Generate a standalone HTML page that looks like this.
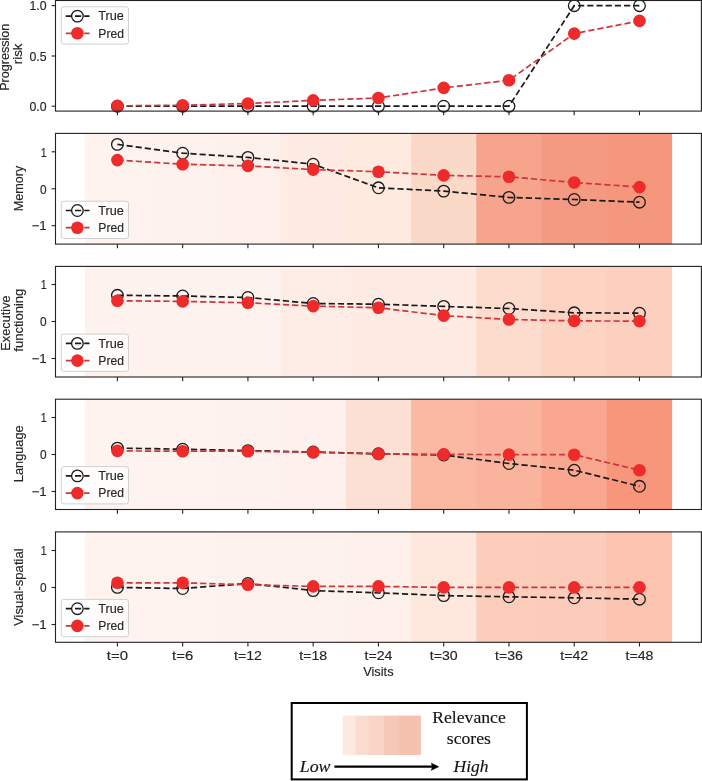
<!DOCTYPE html>
<html><head><meta charset="utf-8"><style>
html,body{margin:0;padding:0;background:#fff;}
svg{display:block;will-change:transform;}
text{font-family:"Liberation Sans", sans-serif;fill:#262626;stroke:#262626;stroke-width:0.15px;}
</style></head><body>
<svg width="702" height="781" viewBox="0 0 702 781">
<rect width="702" height="781" fill="#fff"/>
<polyline points="117.40,106.20 182.66,106.20 247.92,106.20 313.18,106.20 378.44,106.20 443.70,106.20 508.96,106.20 574.22,5.70 639.48,5.70" fill="none" stroke="#1a1a1a" stroke-width="1.7" stroke-dasharray="6.2 3.0"/>
<circle cx="117.40" cy="106.20" r="5.8" fill="none" stroke="#1a1a1a" stroke-width="1.3"/>
<circle cx="182.66" cy="106.20" r="5.8" fill="none" stroke="#1a1a1a" stroke-width="1.3"/>
<circle cx="247.92" cy="106.20" r="5.8" fill="none" stroke="#1a1a1a" stroke-width="1.3"/>
<circle cx="313.18" cy="106.20" r="5.8" fill="none" stroke="#1a1a1a" stroke-width="1.3"/>
<circle cx="378.44" cy="106.20" r="5.8" fill="none" stroke="#1a1a1a" stroke-width="1.3"/>
<circle cx="443.70" cy="106.20" r="5.8" fill="none" stroke="#1a1a1a" stroke-width="1.3"/>
<circle cx="508.96" cy="106.20" r="5.8" fill="none" stroke="#1a1a1a" stroke-width="1.3"/>
<circle cx="574.22" cy="5.70" r="5.8" fill="none" stroke="#1a1a1a" stroke-width="1.3"/>
<circle cx="639.48" cy="5.70" r="5.8" fill="none" stroke="#1a1a1a" stroke-width="1.3"/>
<polyline points="117.40,105.90 182.66,105.20 247.92,103.50 313.18,100.40 378.44,98.00 443.70,87.90 508.96,80.30 574.22,33.60 639.48,20.90" fill="none" stroke="#cf363b" stroke-width="1.7" stroke-dasharray="6.2 3.0"/>
<circle cx="117.40" cy="105.90" r="6.3" fill="#ee2a2a"/>
<circle cx="182.66" cy="105.20" r="6.3" fill="#ee2a2a"/>
<circle cx="247.92" cy="103.50" r="6.3" fill="#ee2a2a"/>
<circle cx="313.18" cy="100.40" r="6.3" fill="#ee2a2a"/>
<circle cx="378.44" cy="98.00" r="6.3" fill="#ee2a2a"/>
<circle cx="443.70" cy="87.90" r="6.3" fill="#ee2a2a"/>
<circle cx="508.96" cy="80.30" r="6.3" fill="#ee2a2a"/>
<circle cx="574.22" cy="33.60" r="6.3" fill="#ee2a2a"/>
<circle cx="639.48" cy="20.90" r="6.3" fill="#ee2a2a"/>
<rect x="55.5" y="0.5" width="645.90" height="110.60" fill="none" stroke="#222" stroke-width="1.1"/>
<line x1="51.6" y1="5.6" x2="55.5" y2="5.6" stroke="#222" stroke-width="1.1"/>
<text x="46.6" y="10.30" text-anchor="end" font-size="12.4" textLength="17.1" lengthAdjust="spacingAndGlyphs">1.0</text>
<line x1="51.6" y1="56.0" x2="55.5" y2="56.0" stroke="#222" stroke-width="1.1"/>
<text x="46.6" y="60.70" text-anchor="end" font-size="12.4" textLength="17.1" lengthAdjust="spacingAndGlyphs">0.5</text>
<line x1="51.6" y1="106.2" x2="55.5" y2="106.2" stroke="#222" stroke-width="1.1"/>
<text x="46.6" y="110.90" text-anchor="end" font-size="12.4" textLength="17.1" lengthAdjust="spacingAndGlyphs">0.0</text>
<line x1="117.40" y1="111.1" x2="117.40" y2="115.30" stroke="#222" stroke-width="1.1"/>
<line x1="182.66" y1="111.1" x2="182.66" y2="115.30" stroke="#222" stroke-width="1.1"/>
<line x1="247.92" y1="111.1" x2="247.92" y2="115.30" stroke="#222" stroke-width="1.1"/>
<line x1="313.18" y1="111.1" x2="313.18" y2="115.30" stroke="#222" stroke-width="1.1"/>
<line x1="378.44" y1="111.1" x2="378.44" y2="115.30" stroke="#222" stroke-width="1.1"/>
<line x1="443.70" y1="111.1" x2="443.70" y2="115.30" stroke="#222" stroke-width="1.1"/>
<line x1="508.96" y1="111.1" x2="508.96" y2="115.30" stroke="#222" stroke-width="1.1"/>
<line x1="574.22" y1="111.1" x2="574.22" y2="115.30" stroke="#222" stroke-width="1.1"/>
<line x1="639.48" y1="111.1" x2="639.48" y2="115.30" stroke="#222" stroke-width="1.1"/>
<text transform="translate(8.7,57.3) rotate(-90)" text-anchor="middle" font-size="12.4" textLength="66.9" lengthAdjust="spacingAndGlyphs">Progression</text>
<text transform="translate(21.6,53.9) rotate(-90)" text-anchor="middle" font-size="12.4" textLength="20.6" lengthAdjust="spacingAndGlyphs">risk</text>
<rect x="61.3" y="6.8" width="67.2" height="37.3" rx="2.5" fill="#ffffff" fill-opacity="0.8" stroke="#d0d0d0" stroke-width="1"/>
<line x1="65.8" y1="16.1" x2="89.5" y2="16.1" stroke="#1a1a1a" stroke-width="1.7" stroke-dasharray="6.2 3.0"/>
<circle cx="77.4" cy="16.1" r="5.8" fill="none" stroke="#1a1a1a" stroke-width="1.3"/>
<line x1="65.8" y1="33.3" x2="89.5" y2="33.3" stroke="#cf363b" stroke-width="1.7" stroke-dasharray="6.2 3.0"/>
<circle cx="77.4" cy="33.3" r="6.3" fill="#ee2a2a"/>
<text x="98.3" y="20.30" font-size="12.4" textLength="25.6" lengthAdjust="spacingAndGlyphs">True</text>
<text x="98.3" y="37.50" font-size="12.4" textLength="25.6" lengthAdjust="spacingAndGlyphs">Pred</text>
<rect x="84.77" y="133.4" width="66.26" height="110.70" fill="#fef3ef"/>
<rect x="150.03" y="133.4" width="66.26" height="110.70" fill="#fef2ee"/>
<rect x="215.29" y="133.4" width="66.26" height="110.70" fill="#fef0eb"/>
<rect x="280.55" y="133.4" width="66.26" height="110.70" fill="#feece4"/>
<rect x="345.81" y="133.4" width="66.26" height="110.70" fill="#feeade"/>
<rect x="411.07" y="133.4" width="66.26" height="110.70" fill="#fbd9c9"/>
<rect x="476.33" y="133.4" width="66.26" height="110.70" fill="#f6a48b"/>
<rect x="541.59" y="133.4" width="66.26" height="110.70" fill="#f59a82"/>
<rect x="606.85" y="133.4" width="65.26" height="110.70" fill="#f4977d"/>
<polyline points="117.40,144.40 182.66,153.20 247.92,157.40 313.18,164.20 378.44,187.80 443.70,191.10 508.96,197.40 574.22,199.50 639.48,202.20" fill="none" stroke="#1a1a1a" stroke-width="1.7" stroke-dasharray="6.2 3.0"/>
<circle cx="117.40" cy="144.40" r="5.8" fill="none" stroke="#1a1a1a" stroke-width="1.3"/>
<circle cx="182.66" cy="153.20" r="5.8" fill="none" stroke="#1a1a1a" stroke-width="1.3"/>
<circle cx="247.92" cy="157.40" r="5.8" fill="none" stroke="#1a1a1a" stroke-width="1.3"/>
<circle cx="313.18" cy="164.20" r="5.8" fill="none" stroke="#1a1a1a" stroke-width="1.3"/>
<circle cx="378.44" cy="187.80" r="5.8" fill="none" stroke="#1a1a1a" stroke-width="1.3"/>
<circle cx="443.70" cy="191.10" r="5.8" fill="none" stroke="#1a1a1a" stroke-width="1.3"/>
<circle cx="508.96" cy="197.40" r="5.8" fill="none" stroke="#1a1a1a" stroke-width="1.3"/>
<circle cx="574.22" cy="199.50" r="5.8" fill="none" stroke="#1a1a1a" stroke-width="1.3"/>
<circle cx="639.48" cy="202.20" r="5.8" fill="none" stroke="#1a1a1a" stroke-width="1.3"/>
<polyline points="117.40,160.10 182.66,164.20 247.92,165.90 313.18,169.60 378.44,171.70 443.70,175.40 508.96,176.80 574.22,182.50 639.48,187.10" fill="none" stroke="#cf363b" stroke-width="1.7" stroke-dasharray="6.2 3.0"/>
<circle cx="117.40" cy="160.10" r="6.3" fill="#ee2a2a"/>
<circle cx="182.66" cy="164.20" r="6.3" fill="#ee2a2a"/>
<circle cx="247.92" cy="165.90" r="6.3" fill="#ee2a2a"/>
<circle cx="313.18" cy="169.60" r="6.3" fill="#ee2a2a"/>
<circle cx="378.44" cy="171.70" r="6.3" fill="#ee2a2a"/>
<circle cx="443.70" cy="175.40" r="6.3" fill="#ee2a2a"/>
<circle cx="508.96" cy="176.80" r="6.3" fill="#ee2a2a"/>
<circle cx="574.22" cy="182.50" r="6.3" fill="#ee2a2a"/>
<circle cx="639.48" cy="187.10" r="6.3" fill="#ee2a2a"/>
<rect x="55.5" y="133.4" width="645.90" height="110.70" fill="none" stroke="#222" stroke-width="1.1"/>
<line x1="51.6" y1="151.8" x2="55.5" y2="151.8" stroke="#222" stroke-width="1.1"/>
<text x="46.6" y="156.50" text-anchor="end" font-size="12.4" textLength="5.9" lengthAdjust="spacingAndGlyphs">1</text>
<line x1="51.6" y1="188.8" x2="55.5" y2="188.8" stroke="#222" stroke-width="1.1"/>
<text x="46.6" y="193.50" text-anchor="end" font-size="12.4" textLength="6.6" lengthAdjust="spacingAndGlyphs">0</text>
<line x1="51.6" y1="225.7" x2="55.5" y2="225.7" stroke="#222" stroke-width="1.1"/>
<text x="46.6" y="230.40" text-anchor="end" font-size="12.4" textLength="15.2" lengthAdjust="spacingAndGlyphs">−1</text>
<line x1="117.40" y1="244.1" x2="117.40" y2="248.30" stroke="#222" stroke-width="1.1"/>
<line x1="182.66" y1="244.1" x2="182.66" y2="248.30" stroke="#222" stroke-width="1.1"/>
<line x1="247.92" y1="244.1" x2="247.92" y2="248.30" stroke="#222" stroke-width="1.1"/>
<line x1="313.18" y1="244.1" x2="313.18" y2="248.30" stroke="#222" stroke-width="1.1"/>
<line x1="378.44" y1="244.1" x2="378.44" y2="248.30" stroke="#222" stroke-width="1.1"/>
<line x1="443.70" y1="244.1" x2="443.70" y2="248.30" stroke="#222" stroke-width="1.1"/>
<line x1="508.96" y1="244.1" x2="508.96" y2="248.30" stroke="#222" stroke-width="1.1"/>
<line x1="574.22" y1="244.1" x2="574.22" y2="248.30" stroke="#222" stroke-width="1.1"/>
<line x1="639.48" y1="244.1" x2="639.48" y2="248.30" stroke="#222" stroke-width="1.1"/>
<text transform="translate(23.3,188.5) rotate(-90)" text-anchor="middle" font-size="12.4" textLength="45.4" lengthAdjust="spacingAndGlyphs">Memory</text>
<rect x="61.3" y="201.2" width="67.2" height="37.3" rx="2.5" fill="#ffffff" fill-opacity="0.8" stroke="#d0d0d0" stroke-width="1"/>
<line x1="65.8" y1="210.5" x2="89.5" y2="210.5" stroke="#1a1a1a" stroke-width="1.7" stroke-dasharray="6.2 3.0"/>
<circle cx="77.4" cy="210.5" r="5.8" fill="none" stroke="#1a1a1a" stroke-width="1.3"/>
<line x1="65.8" y1="227.7" x2="89.5" y2="227.7" stroke="#cf363b" stroke-width="1.7" stroke-dasharray="6.2 3.0"/>
<circle cx="77.4" cy="227.7" r="6.3" fill="#ee2a2a"/>
<text x="98.3" y="214.70" font-size="12.4" textLength="25.6" lengthAdjust="spacingAndGlyphs">True</text>
<text x="98.3" y="231.90" font-size="12.4" textLength="25.6" lengthAdjust="spacingAndGlyphs">Pred</text>
<rect x="84.77" y="266.4" width="66.26" height="110.60" fill="#fef2ee"/>
<rect x="150.03" y="266.4" width="66.26" height="110.60" fill="#fef2ee"/>
<rect x="215.29" y="266.4" width="66.26" height="110.60" fill="#fef2ee"/>
<rect x="280.55" y="266.4" width="66.26" height="110.60" fill="#feede6"/>
<rect x="345.81" y="266.4" width="66.26" height="110.60" fill="#feebe3"/>
<rect x="411.07" y="266.4" width="66.26" height="110.60" fill="#feebe3"/>
<rect x="476.33" y="266.4" width="66.26" height="110.60" fill="#fddbcd"/>
<rect x="541.59" y="266.4" width="66.26" height="110.60" fill="#fdd3c2"/>
<rect x="606.85" y="266.4" width="65.26" height="110.60" fill="#fdcfbf"/>
<polyline points="117.40,295.30 182.66,296.00 247.92,297.50 313.18,303.50 378.44,304.20 443.70,306.40 508.96,308.50 574.22,312.80 639.48,313.20" fill="none" stroke="#1a1a1a" stroke-width="1.7" stroke-dasharray="6.2 3.0"/>
<circle cx="117.40" cy="295.30" r="5.8" fill="none" stroke="#1a1a1a" stroke-width="1.3"/>
<circle cx="182.66" cy="296.00" r="5.8" fill="none" stroke="#1a1a1a" stroke-width="1.3"/>
<circle cx="247.92" cy="297.50" r="5.8" fill="none" stroke="#1a1a1a" stroke-width="1.3"/>
<circle cx="313.18" cy="303.50" r="5.8" fill="none" stroke="#1a1a1a" stroke-width="1.3"/>
<circle cx="378.44" cy="304.20" r="5.8" fill="none" stroke="#1a1a1a" stroke-width="1.3"/>
<circle cx="443.70" cy="306.40" r="5.8" fill="none" stroke="#1a1a1a" stroke-width="1.3"/>
<circle cx="508.96" cy="308.50" r="5.8" fill="none" stroke="#1a1a1a" stroke-width="1.3"/>
<circle cx="574.22" cy="312.80" r="5.8" fill="none" stroke="#1a1a1a" stroke-width="1.3"/>
<circle cx="639.48" cy="313.20" r="5.8" fill="none" stroke="#1a1a1a" stroke-width="1.3"/>
<polyline points="117.40,300.70 182.66,301.40 247.92,302.80 313.18,306.10 378.44,307.80 443.70,315.60 508.96,319.50 574.22,320.90 639.48,321.10" fill="none" stroke="#cf363b" stroke-width="1.7" stroke-dasharray="6.2 3.0"/>
<circle cx="117.40" cy="300.70" r="6.3" fill="#ee2a2a"/>
<circle cx="182.66" cy="301.40" r="6.3" fill="#ee2a2a"/>
<circle cx="247.92" cy="302.80" r="6.3" fill="#ee2a2a"/>
<circle cx="313.18" cy="306.10" r="6.3" fill="#ee2a2a"/>
<circle cx="378.44" cy="307.80" r="6.3" fill="#ee2a2a"/>
<circle cx="443.70" cy="315.60" r="6.3" fill="#ee2a2a"/>
<circle cx="508.96" cy="319.50" r="6.3" fill="#ee2a2a"/>
<circle cx="574.22" cy="320.90" r="6.3" fill="#ee2a2a"/>
<circle cx="639.48" cy="321.10" r="6.3" fill="#ee2a2a"/>
<rect x="55.5" y="266.4" width="645.90" height="110.60" fill="none" stroke="#222" stroke-width="1.1"/>
<line x1="51.6" y1="284.5" x2="55.5" y2="284.5" stroke="#222" stroke-width="1.1"/>
<text x="46.6" y="289.20" text-anchor="end" font-size="12.4" textLength="5.9" lengthAdjust="spacingAndGlyphs">1</text>
<line x1="51.6" y1="321.5" x2="55.5" y2="321.5" stroke="#222" stroke-width="1.1"/>
<text x="46.6" y="326.20" text-anchor="end" font-size="12.4" textLength="6.6" lengthAdjust="spacingAndGlyphs">0</text>
<line x1="51.6" y1="358.5" x2="55.5" y2="358.5" stroke="#222" stroke-width="1.1"/>
<text x="46.6" y="363.20" text-anchor="end" font-size="12.4" textLength="15.2" lengthAdjust="spacingAndGlyphs">−1</text>
<line x1="117.40" y1="377.0" x2="117.40" y2="381.20" stroke="#222" stroke-width="1.1"/>
<line x1="182.66" y1="377.0" x2="182.66" y2="381.20" stroke="#222" stroke-width="1.1"/>
<line x1="247.92" y1="377.0" x2="247.92" y2="381.20" stroke="#222" stroke-width="1.1"/>
<line x1="313.18" y1="377.0" x2="313.18" y2="381.20" stroke="#222" stroke-width="1.1"/>
<line x1="378.44" y1="377.0" x2="378.44" y2="381.20" stroke="#222" stroke-width="1.1"/>
<line x1="443.70" y1="377.0" x2="443.70" y2="381.20" stroke="#222" stroke-width="1.1"/>
<line x1="508.96" y1="377.0" x2="508.96" y2="381.20" stroke="#222" stroke-width="1.1"/>
<line x1="574.22" y1="377.0" x2="574.22" y2="381.20" stroke="#222" stroke-width="1.1"/>
<line x1="639.48" y1="377.0" x2="639.48" y2="381.20" stroke="#222" stroke-width="1.1"/>
<text transform="translate(10.2,323.0) rotate(-90)" text-anchor="middle" font-size="12.4" textLength="55.3" lengthAdjust="spacingAndGlyphs">Executive</text>
<text transform="translate(23.0,320.2) rotate(-90)" text-anchor="middle" font-size="12.4" textLength="63.0" lengthAdjust="spacingAndGlyphs">functioning</text>
<rect x="61.3" y="334.1" width="67.2" height="37.3" rx="2.5" fill="#ffffff" fill-opacity="0.8" stroke="#d0d0d0" stroke-width="1"/>
<line x1="65.8" y1="343.40000000000003" x2="89.5" y2="343.40000000000003" stroke="#1a1a1a" stroke-width="1.7" stroke-dasharray="6.2 3.0"/>
<circle cx="77.4" cy="343.40000000000003" r="5.8" fill="none" stroke="#1a1a1a" stroke-width="1.3"/>
<line x1="65.8" y1="360.6" x2="89.5" y2="360.6" stroke="#cf363b" stroke-width="1.7" stroke-dasharray="6.2 3.0"/>
<circle cx="77.4" cy="360.6" r="6.3" fill="#ee2a2a"/>
<text x="98.3" y="347.60" font-size="12.4" textLength="25.6" lengthAdjust="spacingAndGlyphs">True</text>
<text x="98.3" y="364.80" font-size="12.4" textLength="25.6" lengthAdjust="spacingAndGlyphs">Pred</text>
<rect x="84.77" y="399.2" width="66.26" height="110.30" fill="#fef3ef"/>
<rect x="150.03" y="399.2" width="66.26" height="110.30" fill="#fef3ef"/>
<rect x="215.29" y="399.2" width="66.26" height="110.30" fill="#fef2ee"/>
<rect x="280.55" y="399.2" width="66.26" height="110.30" fill="#fef1ed"/>
<rect x="345.81" y="399.2" width="66.26" height="110.30" fill="#fde0d4"/>
<rect x="411.07" y="399.2" width="66.26" height="110.30" fill="#fbb9a2"/>
<rect x="476.33" y="399.2" width="66.26" height="110.30" fill="#fab49d"/>
<rect x="541.59" y="399.2" width="66.26" height="110.30" fill="#f9a88f"/>
<rect x="606.85" y="399.2" width="65.26" height="110.30" fill="#f8967b"/>
<polyline points="117.40,448.10 182.66,449.20 247.92,450.60 313.18,452.00 378.44,453.80 443.70,455.00 508.96,463.50 574.22,470.20 639.48,486.30" fill="none" stroke="#1a1a1a" stroke-width="1.7" stroke-dasharray="6.2 3.0"/>
<circle cx="117.40" cy="448.10" r="5.8" fill="none" stroke="#1a1a1a" stroke-width="1.3"/>
<circle cx="182.66" cy="449.20" r="5.8" fill="none" stroke="#1a1a1a" stroke-width="1.3"/>
<circle cx="247.92" cy="450.60" r="5.8" fill="none" stroke="#1a1a1a" stroke-width="1.3"/>
<circle cx="313.18" cy="452.00" r="5.8" fill="none" stroke="#1a1a1a" stroke-width="1.3"/>
<circle cx="378.44" cy="453.80" r="5.8" fill="none" stroke="#1a1a1a" stroke-width="1.3"/>
<circle cx="443.70" cy="455.00" r="5.8" fill="none" stroke="#1a1a1a" stroke-width="1.3"/>
<circle cx="508.96" cy="463.50" r="5.8" fill="none" stroke="#1a1a1a" stroke-width="1.3"/>
<circle cx="574.22" cy="470.20" r="5.8" fill="none" stroke="#1a1a1a" stroke-width="1.3"/>
<circle cx="639.48" cy="486.30" r="5.8" fill="none" stroke="#1a1a1a" stroke-width="1.3"/>
<polyline points="117.40,450.90 182.66,451.20 247.92,451.20 313.18,452.30 378.44,454.00 443.70,454.40 508.96,454.60 574.22,454.70 639.48,470.20" fill="none" stroke="#cf363b" stroke-width="1.7" stroke-dasharray="6.2 3.0"/>
<circle cx="117.40" cy="450.90" r="6.3" fill="#ee2a2a"/>
<circle cx="182.66" cy="451.20" r="6.3" fill="#ee2a2a"/>
<circle cx="247.92" cy="451.20" r="6.3" fill="#ee2a2a"/>
<circle cx="313.18" cy="452.30" r="6.3" fill="#ee2a2a"/>
<circle cx="378.44" cy="454.00" r="6.3" fill="#ee2a2a"/>
<circle cx="443.70" cy="454.40" r="6.3" fill="#ee2a2a"/>
<circle cx="508.96" cy="454.60" r="6.3" fill="#ee2a2a"/>
<circle cx="574.22" cy="454.70" r="6.3" fill="#ee2a2a"/>
<circle cx="639.48" cy="470.20" r="6.3" fill="#ee2a2a"/>
<rect x="55.5" y="399.2" width="645.90" height="110.30" fill="none" stroke="#222" stroke-width="1.1"/>
<line x1="51.6" y1="417.5" x2="55.5" y2="417.5" stroke="#222" stroke-width="1.1"/>
<text x="46.6" y="422.20" text-anchor="end" font-size="12.4" textLength="5.9" lengthAdjust="spacingAndGlyphs">1</text>
<line x1="51.6" y1="454.5" x2="55.5" y2="454.5" stroke="#222" stroke-width="1.1"/>
<text x="46.6" y="459.20" text-anchor="end" font-size="12.4" textLength="6.6" lengthAdjust="spacingAndGlyphs">0</text>
<line x1="51.6" y1="491.5" x2="55.5" y2="491.5" stroke="#222" stroke-width="1.1"/>
<text x="46.6" y="496.20" text-anchor="end" font-size="12.4" textLength="15.2" lengthAdjust="spacingAndGlyphs">−1</text>
<line x1="117.40" y1="509.5" x2="117.40" y2="513.70" stroke="#222" stroke-width="1.1"/>
<line x1="182.66" y1="509.5" x2="182.66" y2="513.70" stroke="#222" stroke-width="1.1"/>
<line x1="247.92" y1="509.5" x2="247.92" y2="513.70" stroke="#222" stroke-width="1.1"/>
<line x1="313.18" y1="509.5" x2="313.18" y2="513.70" stroke="#222" stroke-width="1.1"/>
<line x1="378.44" y1="509.5" x2="378.44" y2="513.70" stroke="#222" stroke-width="1.1"/>
<line x1="443.70" y1="509.5" x2="443.70" y2="513.70" stroke="#222" stroke-width="1.1"/>
<line x1="508.96" y1="509.5" x2="508.96" y2="513.70" stroke="#222" stroke-width="1.1"/>
<line x1="574.22" y1="509.5" x2="574.22" y2="513.70" stroke="#222" stroke-width="1.1"/>
<line x1="639.48" y1="509.5" x2="639.48" y2="513.70" stroke="#222" stroke-width="1.1"/>
<text transform="translate(23.3,453.75) rotate(-90)" text-anchor="middle" font-size="12.4" textLength="56.9" lengthAdjust="spacingAndGlyphs">Language</text>
<rect x="61.3" y="466.6" width="67.2" height="37.3" rx="2.5" fill="#ffffff" fill-opacity="0.8" stroke="#d0d0d0" stroke-width="1"/>
<line x1="65.8" y1="475.90000000000003" x2="89.5" y2="475.90000000000003" stroke="#1a1a1a" stroke-width="1.7" stroke-dasharray="6.2 3.0"/>
<circle cx="77.4" cy="475.90000000000003" r="5.8" fill="none" stroke="#1a1a1a" stroke-width="1.3"/>
<line x1="65.8" y1="493.1" x2="89.5" y2="493.1" stroke="#cf363b" stroke-width="1.7" stroke-dasharray="6.2 3.0"/>
<circle cx="77.4" cy="493.1" r="6.3" fill="#ee2a2a"/>
<text x="98.3" y="480.10" font-size="12.4" textLength="25.6" lengthAdjust="spacingAndGlyphs">True</text>
<text x="98.3" y="497.30" font-size="12.4" textLength="25.6" lengthAdjust="spacingAndGlyphs">Pred</text>
<rect x="84.77" y="531.9" width="66.26" height="110.40" fill="#fef3ef"/>
<rect x="150.03" y="531.9" width="66.26" height="110.40" fill="#fef3ef"/>
<rect x="215.29" y="531.9" width="66.26" height="110.40" fill="#fef2ee"/>
<rect x="280.55" y="531.9" width="66.26" height="110.40" fill="#fef2ee"/>
<rect x="345.81" y="531.9" width="66.26" height="110.40" fill="#fef0ea"/>
<rect x="411.07" y="531.9" width="66.26" height="110.40" fill="#fee8de"/>
<rect x="476.33" y="531.9" width="66.26" height="110.40" fill="#fdcdbb"/>
<rect x="541.59" y="531.9" width="66.26" height="110.40" fill="#fdcbb9"/>
<rect x="606.85" y="531.9" width="65.26" height="110.40" fill="#fcc3af"/>
<polyline points="117.40,587.40 182.66,588.50 247.92,583.50 313.18,590.60 378.44,592.80 443.70,595.60 508.96,596.80 574.22,597.80 639.48,599.20" fill="none" stroke="#1a1a1a" stroke-width="1.7" stroke-dasharray="6.2 3.0"/>
<circle cx="117.40" cy="587.40" r="5.8" fill="none" stroke="#1a1a1a" stroke-width="1.3"/>
<circle cx="182.66" cy="588.50" r="5.8" fill="none" stroke="#1a1a1a" stroke-width="1.3"/>
<circle cx="247.92" cy="583.50" r="5.8" fill="none" stroke="#1a1a1a" stroke-width="1.3"/>
<circle cx="313.18" cy="590.60" r="5.8" fill="none" stroke="#1a1a1a" stroke-width="1.3"/>
<circle cx="378.44" cy="592.80" r="5.8" fill="none" stroke="#1a1a1a" stroke-width="1.3"/>
<circle cx="443.70" cy="595.60" r="5.8" fill="none" stroke="#1a1a1a" stroke-width="1.3"/>
<circle cx="508.96" cy="596.80" r="5.8" fill="none" stroke="#1a1a1a" stroke-width="1.3"/>
<circle cx="574.22" cy="597.80" r="5.8" fill="none" stroke="#1a1a1a" stroke-width="1.3"/>
<circle cx="639.48" cy="599.20" r="5.8" fill="none" stroke="#1a1a1a" stroke-width="1.3"/>
<polyline points="117.40,582.80 182.66,582.80 247.92,584.70 313.18,586.40 378.44,586.40 443.70,587.40 508.96,587.40 574.22,587.40 639.48,587.40" fill="none" stroke="#cf363b" stroke-width="1.7" stroke-dasharray="6.2 3.0"/>
<circle cx="117.40" cy="582.80" r="6.3" fill="#ee2a2a"/>
<circle cx="182.66" cy="582.80" r="6.3" fill="#ee2a2a"/>
<circle cx="247.92" cy="584.70" r="6.3" fill="#ee2a2a"/>
<circle cx="313.18" cy="586.40" r="6.3" fill="#ee2a2a"/>
<circle cx="378.44" cy="586.40" r="6.3" fill="#ee2a2a"/>
<circle cx="443.70" cy="587.40" r="6.3" fill="#ee2a2a"/>
<circle cx="508.96" cy="587.40" r="6.3" fill="#ee2a2a"/>
<circle cx="574.22" cy="587.40" r="6.3" fill="#ee2a2a"/>
<circle cx="639.48" cy="587.40" r="6.3" fill="#ee2a2a"/>
<rect x="55.5" y="531.9" width="645.90" height="110.40" fill="none" stroke="#222" stroke-width="1.1"/>
<line x1="51.6" y1="550.5" x2="55.5" y2="550.5" stroke="#222" stroke-width="1.1"/>
<text x="46.6" y="555.20" text-anchor="end" font-size="12.4" textLength="5.9" lengthAdjust="spacingAndGlyphs">1</text>
<line x1="51.6" y1="587.5" x2="55.5" y2="587.5" stroke="#222" stroke-width="1.1"/>
<text x="46.6" y="592.20" text-anchor="end" font-size="12.4" textLength="6.6" lengthAdjust="spacingAndGlyphs">0</text>
<line x1="51.6" y1="624.5" x2="55.5" y2="624.5" stroke="#222" stroke-width="1.1"/>
<text x="46.6" y="629.20" text-anchor="end" font-size="12.4" textLength="15.2" lengthAdjust="spacingAndGlyphs">−1</text>
<line x1="117.40" y1="642.3" x2="117.40" y2="646.50" stroke="#222" stroke-width="1.1"/>
<line x1="182.66" y1="642.3" x2="182.66" y2="646.50" stroke="#222" stroke-width="1.1"/>
<line x1="247.92" y1="642.3" x2="247.92" y2="646.50" stroke="#222" stroke-width="1.1"/>
<line x1="313.18" y1="642.3" x2="313.18" y2="646.50" stroke="#222" stroke-width="1.1"/>
<line x1="378.44" y1="642.3" x2="378.44" y2="646.50" stroke="#222" stroke-width="1.1"/>
<line x1="443.70" y1="642.3" x2="443.70" y2="646.50" stroke="#222" stroke-width="1.1"/>
<line x1="508.96" y1="642.3" x2="508.96" y2="646.50" stroke="#222" stroke-width="1.1"/>
<line x1="574.22" y1="642.3" x2="574.22" y2="646.50" stroke="#222" stroke-width="1.1"/>
<line x1="639.48" y1="642.3" x2="639.48" y2="646.50" stroke="#222" stroke-width="1.1"/>
<text transform="translate(23.3,587.15) rotate(-90)" text-anchor="middle" font-size="12.4" textLength="77.5" lengthAdjust="spacingAndGlyphs">Visual-spatial</text>
<rect x="61.3" y="599.4" width="67.2" height="37.3" rx="2.5" fill="#ffffff" fill-opacity="0.8" stroke="#d0d0d0" stroke-width="1"/>
<line x1="65.8" y1="608.6999999999999" x2="89.5" y2="608.6999999999999" stroke="#1a1a1a" stroke-width="1.7" stroke-dasharray="6.2 3.0"/>
<circle cx="77.4" cy="608.6999999999999" r="5.8" fill="none" stroke="#1a1a1a" stroke-width="1.3"/>
<line x1="65.8" y1="625.9" x2="89.5" y2="625.9" stroke="#cf363b" stroke-width="1.7" stroke-dasharray="6.2 3.0"/>
<circle cx="77.4" cy="625.9" r="6.3" fill="#ee2a2a"/>
<text x="98.3" y="612.90" font-size="12.4" textLength="25.6" lengthAdjust="spacingAndGlyphs">True</text>
<text x="98.3" y="630.10" font-size="12.4" textLength="25.6" lengthAdjust="spacingAndGlyphs">Pred</text>
<text x="117.40" y="660.1" text-anchor="middle" font-size="12.4" textLength="21.1" lengthAdjust="spacingAndGlyphs">t=0</text>
<text x="182.66" y="660.1" text-anchor="middle" font-size="12.4" textLength="21.1" lengthAdjust="spacingAndGlyphs">t=6</text>
<text x="247.92" y="660.1" text-anchor="middle" font-size="12.4" textLength="27.9" lengthAdjust="spacingAndGlyphs">t=12</text>
<text x="313.18" y="660.1" text-anchor="middle" font-size="12.4" textLength="27.9" lengthAdjust="spacingAndGlyphs">t=18</text>
<text x="378.44" y="660.1" text-anchor="middle" font-size="12.4" textLength="27.9" lengthAdjust="spacingAndGlyphs">t=24</text>
<text x="443.70" y="660.1" text-anchor="middle" font-size="12.4" textLength="27.9" lengthAdjust="spacingAndGlyphs">t=30</text>
<text x="508.96" y="660.1" text-anchor="middle" font-size="12.4" textLength="27.9" lengthAdjust="spacingAndGlyphs">t=36</text>
<text x="574.22" y="660.1" text-anchor="middle" font-size="12.4" textLength="27.9" lengthAdjust="spacingAndGlyphs">t=42</text>
<text x="639.48" y="660.1" text-anchor="middle" font-size="12.4" textLength="27.9" lengthAdjust="spacingAndGlyphs">t=48</text>
<text x="378.4" y="675.9" text-anchor="middle" font-size="12.4" textLength="30.4" lengthAdjust="spacingAndGlyphs">Visits</text>
<rect x="291.7" y="703" width="235.2" height="76.4" fill="#fff" stroke="#000" stroke-width="2"/>
<rect x="342.7" y="715.6" width="13.60" height="39.4" fill="#fde9df"/>
<rect x="355.5" y="715.6" width="13.80" height="39.4" fill="#fadcd1"/>
<rect x="368.5" y="715.6" width="16.10" height="39.4" fill="#f9d5c8"/>
<rect x="383.8" y="715.6" width="15.70" height="39.4" fill="#f5c8b7"/>
<rect x="398.7" y="715.6" width="22.20" height="39.4" fill="#f4c2ae"/>
<text x="469" y="722.8" text-anchor="middle" style="font-family:'Liberation Serif',serif;fill:#111" font-size="17" textLength="73.7" lengthAdjust="spacingAndGlyphs">Relevance</text>
<text x="468.9" y="743.9" text-anchor="middle" style="font-family:'Liberation Serif',serif;fill:#111" font-size="17" textLength="44.1" lengthAdjust="spacingAndGlyphs">scores</text>
<text x="299.7" y="771.8" style="font-family:'Liberation Serif',serif;fill:#111;font-style:italic" font-size="17" textLength="30.8" lengthAdjust="spacingAndGlyphs">Low</text>
<text x="453.5" y="771.7" style="font-family:'Liberation Serif',serif;fill:#111;font-style:italic" font-size="17" textLength="35" lengthAdjust="spacingAndGlyphs">High</text>
<line x1="334.4" y1="766.7" x2="433" y2="766.7" stroke="#000" stroke-width="2.3"/>
<polygon points="438.7,766.7 431.3,763.2 432.6,766.7 431.3,770.3" fill="#000" stroke="#000" stroke-width="0.6" stroke-linejoin="miter"/>
</svg>
</body></html>
